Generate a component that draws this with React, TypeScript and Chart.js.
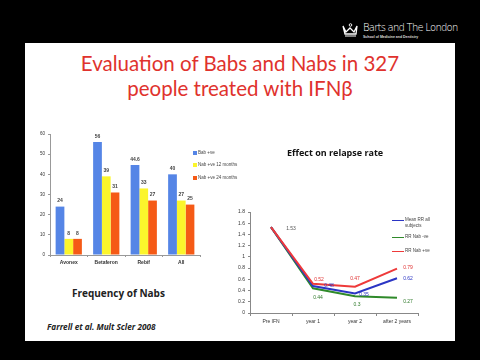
import React, { useEffect, useRef } from "react";
import { Chart, registerables } from "chart.js";

Chart.register(...registerables);

// ---- Data: Frequency of Nabs (bar chart) ----
const barCategories = ["Avonex", "Betaferon", "Rebif", "All"];
const babPositive = [24, 56, 44.6, 40];
const nab12Months = [8, 39, 33, 27];
const nab24Months = [8, 31, 27, 25];
const barSeriesNames = ["Bab +ve", "Nab +ve 12 months", "Nab +ve 24 months"];
const barTicks = [0, 10, 20, 30, 40, 50, 60];

// ---- Data: Effect on relapse rate (line chart) ----
const lineCategories = ["Pre IFN", "year 1", "year 2", "after 2 years"];
const meanRRAll = [1.53, 0.48, 0.35, 0.62];
const rrNabNegative = [1.53, 0.44, 0.3, 0.27];
const rrNabPositive = [1.53, 0.52, 0.47, 0.79];
const lineSeriesNames = ["Mean RR all subjects", "RR Nab -ve", "RR Nab +ve"];
const lineTicks = [0, 0.2, 0.4, 0.6, 0.8, 1, 1.2, 1.4, 1.6, 1.8];

const BLUE_BAR = "#5585e6";
const YELLOW_BAR = "#fbf52c";
const ORANGE_BAR = "#f55a16";
const BLUE_LINE = "#2b35c4";
const GREEN_LINE = "#2f8a2a";
const RED_LINE = "#ee3a3a";

const FONT = "'Liberation Sans', Arial, sans-serif";

const barLabelPlugin = {
  id: "barLabels",
  afterDatasetsDraw(chart: any) {
    const ctx = chart.ctx;
    ctx.save();
    ctx.font = `bold 5px ${FONT}`;
    ctx.fillStyle = "#444";
    ctx.textAlign = "center";
    ctx.textBaseline = "bottom";
    chart.data.datasets.forEach((ds: any, i: number) => {
      const meta = chart.getDatasetMeta(i);
      meta.data.forEach((el: any, j: number) => {
        ctx.fillText(String(ds.data[j]), el.x, el.y - 3);
      });
    });
    ctx.restore();
  },
};

// label offsets (dx, dy) per dataset/point; null = no label
const lineLabelOffsets: any = {
  blue: [null, [16, 0], [9, 1], [11, 0]],
  green: [null, [5, 9], [2, 8], [11, 4]],
  red: [[20, 1], [6, -4], [0, -8], [11, -1]],
};
const lineLabelColors: any = { blue: "#2b35c4", green: "#2f7a2a", red: "#e03030" };

const lineLabelPlugin = {
  id: "lineLabels",
  afterDatasetsDraw(chart: any) {
    const ctx = chart.ctx;
    ctx.save();
    ctx.font = `5px ${FONT}`;
    ctx.textAlign = "center";
    ctx.textBaseline = "middle";
    chart.data.datasets.forEach((ds: any, i: number) => {
      const key = ds.key;
      const meta = chart.getDatasetMeta(i);
      meta.data.forEach((el: any, j: number) => {
        const off = lineLabelOffsets[key][j];
        if (!off) return;
        ctx.fillStyle = j === 0 ? "#555" : lineLabelColors[key];
        ctx.fillText(String(ds.data[j]), el.x + off[0], el.y + off[1]);
      });
    });
    ctx.restore();
  },
};

function BarChart() {
  const ref = useRef<HTMLCanvasElement>(null);
  useEffect(() => {
    const chart = new Chart(ref.current!, {
      type: "bar",
      data: {
        labels: barCategories,
        datasets: [
          { label: barSeriesNames[0], data: babPositive, backgroundColor: BLUE_BAR },
          { label: barSeriesNames[1], data: nab12Months, backgroundColor: YELLOW_BAR },
          { label: barSeriesNames[2], data: nab24Months, backgroundColor: ORANGE_BAR },
        ],
      },
      options: {
        animation: false,
        responsive: false,
        devicePixelRatio: 1,
        layout: { padding: { top: 9, right: 5, left: 0, bottom: 0 } },
        datasets: { bar: { categoryPercentage: 0.7, barPercentage: 1 } },
        plugins: { legend: { display: false }, tooltip: { enabled: false } },
        scales: {
          x: {
            grid: { display: true, drawOnChartArea: false, tickLength: 2, color: "#999" },
            border: { color: "#999" },
            ticks: { font: { size: 5, family: FONT, weight: "bold" }, color: "#333", padding: 3 },
            afterFit: (s: any) => { s.height = 15; },
          },
          y: {
            min: 0,
            max: 60,
            afterBuildTicks: (s: any) => { s.ticks = barTicks.map((v) => ({ value: v })); },
            grid: { display: true, drawOnChartArea: false, tickLength: 2, color: "#999" },
            border: { color: "#999" },
            ticks: { font: { size: 4.5, family: FONT }, color: "#333", padding: 3 },
            afterFit: (s: any) => { s.width = 20; },
          },
        },
      } as any,
      plugins: [barLabelPlugin],
    });
    return () => chart.destroy();
  }, []);
  return <canvas ref={ref} width={175} height={145} style={{ position: "absolute", left: 30, top: 125 }} />;
}

function LineChart() {
  const ref = useRef<HTMLCanvasElement>(null);
  useEffect(() => {
    const common = { borderWidth: 2, pointRadius: 0, fill: false, tension: 0 };
    const chart = new Chart(ref.current!, {
      type: "line",
      data: {
        labels: lineCategories,
        datasets: [
          { key: "blue", label: lineSeriesNames[0], data: meanRRAll, borderColor: BLUE_LINE, order: 2, ...common },
          { key: "green", label: lineSeriesNames[1], data: rrNabNegative, borderColor: GREEN_LINE, order: 3, ...common },
          { key: "red", label: lineSeriesNames[2], data: rrNabPositive, borderColor: RED_LINE, order: 1, ...common },
        ] as any,
      },
      options: {
        animation: false,
        responsive: false,
        devicePixelRatio: 1,
        layout: { padding: { top: 7, right: 5, left: 0, bottom: 0 } },
        plugins: { legend: { display: false }, tooltip: { enabled: false } },
        scales: {
          x: {
            offset: true,
            grid: { display: true, offset: true, drawOnChartArea: false, tickLength: 3, color: "#888" },
            border: { color: "#888" },
            ticks: { font: { size: 5, family: FONT }, color: "#333", padding: 3 },
            afterFit: (s: any) => { s.height = 12; },
          },
          y: {
            min: 0,
            max: 1.8,
            afterBuildTicks: (s: any) => { s.ticks = lineTicks.map((v) => ({ value: v })); },
            grid: { display: true, drawOnChartArea: false, tickLength: 2, color: "#888" },
            border: { color: "#888" },
            ticks: { font: { size: 5, family: FONT }, color: "#333", padding: 3, callback: (v: any) => String(Math.round(v * 10) / 10) },
            afterFit: (s: any) => { s.width = 22; },
          },
        },
      } as any,
      plugins: [lineLabelPlugin],
    });
    return () => chart.destroy();
  }, []);
  return <canvas ref={ref} width={195} height={120} style={{ position: "absolute", left: 228, top: 205 }} />;
}

const abs = (s: any): any => ({ position: "absolute", margin: 0, whiteSpace: "nowrap", ...s });

export default function App() {
  const barColors = [BLUE_BAR, YELLOW_BAR, ORANGE_BAR];
  const barLegendY = [150, 162, 175];
  const lineColors = [BLUE_LINE, GREEN_LINE, RED_LINE];
  const lineLegendY = [217, 234, 248];
  return (
    <div style={{ position: "fixed", left: 0, top: 0, width: 480, height: 360, background: "#000", overflow: "hidden", fontFamily: FONT }}>
      {/* logo */}
      <svg style={{ position: "absolute", left: 342, top: 23 }} width={17} height={14} viewBox="0 0 17 14">
        <path d="M1 3 L4 9 L8 5 L12 9 L15 3 L14 11 L3 11 Z" fill="none" stroke="#fff" strokeWidth={1.3} />
        <circle cx={8.5} cy={2} r={1.3} fill="none" stroke="#fff" strokeWidth={0.9} />
        <line x1={3} y1={13} x2={14} y2={13} stroke="#fff" strokeWidth={1} />
      </svg>
      <div style={abs({ left: 363, top: 22, color: "#fff", fontSize: 10, fontFamily: "'DejaVu Sans', sans-serif", fontWeight: 300, letterSpacing: -0.75 })}>Barts and The London</div>
      <div style={abs({ left: 363, top: 35, color: "#ddd", fontSize: 3.5, fontWeight: "bold" })}>School of Medicine and Dentistry</div>

      {/* white slide */}
      <div style={{ position: "absolute", left: 25, top: 43, width: 430, height: 298, background: "#fff" }} />

      <div style={abs({ left: 0, width: 480, top: 51, textAlign: "center", color: "#e0322d", fontSize: 20.5, fontFamily: "Lato, 'Open Sans', sans-serif", lineHeight: "25px" })}>
        Evaluation of Babs and Nabs in 327
        <br />
        people treated with IFNβ
      </div>

      <BarChart />
      <LineChart />

      {/* bar legend */}
      {barSeriesNames.map((n, i) => (
        <div key={n} style={abs({ left: 193, top: barLegendY[i], fontSize: 4.5, color: "#444", lineHeight: "6px", display: "flex", alignItems: "center" })}>
          <span style={{ display: "inline-block", width: 4, height: 4, background: barColors[i], marginRight: 1 }} />
          {n}
        </div>
      ))}

      {/* line legend */}
      {lineSeriesNames.map((n, i) => (
        <div key={n} style={abs({ left: 392, top: lineLegendY[i], fontSize: 4.5, color: "#444", lineHeight: "6px", display: "flex", alignItems: "flex-start" })}>
          <span style={{ display: "inline-block", width: 12, height: 1.5, background: lineColors[i], marginRight: 1, marginTop: 2.5 }} />
          <span style={{ whiteSpace: "normal", width: 30 }}>{n}</span>
        </div>
      ))}

      <div style={abs({ left: 287, top: 146, fontSize: 9, fontWeight: "bold", color: "#111", fontFamily: "'Open Sans', sans-serif" })}>Effect on relapse rate</div>
      <div style={abs({ left: 72, top: 286, fontSize: 10, fontWeight: "bold", color: "#222", fontFamily: "'Open Sans', sans-serif" })}>Frequency of Nabs</div>
      <div style={abs({ left: 47, top: 321, fontSize: 8.2, fontWeight: "bold", fontStyle: "italic", color: "#222", fontFamily: "'Open Sans', sans-serif" })}>Farrell et al. Mult Scler 2008</div>
    </div>
  );
}
